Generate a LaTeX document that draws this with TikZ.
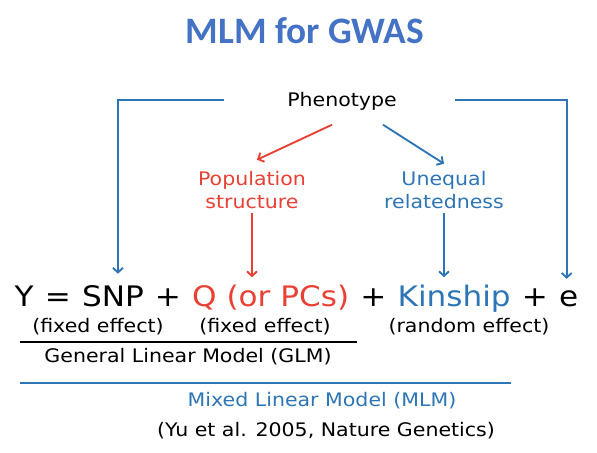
\documentclass[tikz,border=0pt]{standalone}
\usepackage{fontspec}
\setmainfont{DejaVu Sans}[FakeStretch=1.1]
\newfontfamily\ttlfont{Carlito}
\usetikzlibrary{arrows.meta,calc,positioning}
\definecolor{gwblue}{RGB}{46,117,182}
\definecolor{gwred}{RGB}{232,64,52}
\definecolor{ttlblue}{RGB}{68,114,196}

\begin{document}
\begin{tikzpicture}[x=0.75pt,y=-0.75pt,>={Straight Barb[length=3.5pt,width=7.5pt]},
  term/.style={inner xsep=4pt,inner ysep=0pt,anchor=base west,font=\fontsize{21.2}{25}\selectfont},
  note/.style={font=\fontsize{14}{17}\selectfont},
  barb/.style={->,line width=1.4pt}]
\useasboundingbox(0,0)rectangle(597,453);
\node[font=\ttlfont\bfseries\fontsize{28}{32}\selectfont,text=ttlblue](ttl)at(305,31){MLM for GWAS};
\node[note](pheno)at(342,101){Phenotype};
\node[note,text=gwred,align=center](pop)at(252,190){Population\\structure};\node[note,text=gwblue,align=center](rel)at(444,190){Unequal\\relatedness};
% the model, one term after the other
\node[term](y)at(9,306){Y};\node[term](eq)at(y.base east){=};\node[term](snp)at(eq.base east){SNP};\node[term](p1)at(snp.base east){+};
\node[term,text=gwred](q)at(p1.base east){Q (or PCs)};\node[term](p2)at(q.base east){+};\node[term,text=gwblue](kin)at(p2.base east){Kinship};\node[term](p3)at(kin.base east){+};\node[term](e)at(p3.base east){e};
\node[note](fx1)at(98,327){(fixed effect)};\node[note](fx2)at(265,327){(fixed effect)};\node[note](rnd)at(469,327){(random effect)};
\draw[line width=1.3pt](20,342)--(357,342);\node[note](glm)at(188,357){General Linear Model (GLM)};
\draw[gwblue,line width=1.5pt](20,383)--(511,383);\node[note,text=gwblue](mlm)at(322,401){Mixed Linear Model (MLM)};
\node[note](ref)at(326,431){(Yu et al. 2005, Nature Genetics)};
% arrows
\coordinate(lft)at(224,100);\coordinate(rgt)at(455,100);
\draw[barb,gwblue](lft)-|($(snp.north)+(5,-11)$);\draw[barb,gwblue](rgt)-|($(e.north)+(-2,-11)$);
\draw[barb,gwred]($(pheno.south)+(-10,10)$)--($(pop.north)+(5,-7)$);\draw[barb,gwblue]($(pheno.south)+(41,10)$)--($(rel.north)+(0,-3)$);
\draw[barb,gwred](pop.south)--($(pop.south|-q.north)+(0,-7)$);\draw[barb,gwblue](rel.south)--($(rel.south|-kin.north)+(0,-7)$);
\end{tikzpicture}
\end{document}
